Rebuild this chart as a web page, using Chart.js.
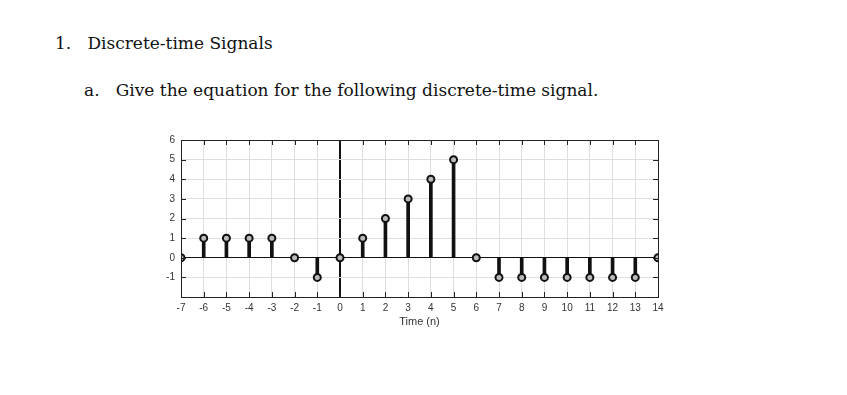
<!DOCTYPE html>
<html>
<head>
<meta charset="utf-8">
<script src="https://cdn.jsdelivr.net/npm/chart.js@4.4.1/dist/chart.umd.min.js"></script>
<style>
  body { margin: 0; background: #fff; width: 847px; height: 395px; position: relative; overflow: hidden; }
  .txt { position: absolute; font-family: "DejaVu Serif", serif; font-size: 17px; color: #111; white-space: nowrap; }
  #c { position: absolute; left: 0; top: 0; }
</style>
</head>
<body>
<div class="txt" style="left:55px; top:33px;">1.&nbsp;&nbsp;&nbsp;Discrete-time Signals</div>
<div class="txt" style="left:84px; top:80px;">a.&nbsp;&nbsp;&nbsp;Give the equation for the following discrete-time signal.</div>
<canvas id="c" width="847" height="395"></canvas>
<script>
// Sample index n and signal value x[n]
const timeN = [-7, -6, -5, -4, -3, -2, -1, 0, 1, 2, 3, 4, 5, 6, 7, 8, 9, 10, 11, 12, 13, 14];
const signalX = [0, 1, 1, 1, 1, 0, -1, 0, 1, 2, 3, 4, 5, 0, -1, -1, -1, -1, -1, -1, -1, 0];
// Axis limits
const xRange = [-7, 14];
const yRange = [-2, 6];

// Stems go from 0 to the value, markers sit on the value
const stemData = timeN.map((n, i) => ({ x: n, y: [0, signalX[i]] }));
const markerData = timeN.map((n, i) => ({ x: n, y: signalX[i] }));

// Draws the MATLAB style box and the small inside tick marks
const boxPlugin = {
    id: 'boxPlugin',
    afterDraw(chart) {
        const ctx = chart.ctx;
        const a = chart.chartArea;
        const xs = chart.scales.x;
        const ys = chart.scales.y;
        ctx.save();
        ctx.strokeStyle = '#222';
        ctx.lineWidth = 1;
        ctx.beginPath();
        xs.ticks.forEach(t => {
            const px = Math.round(xs.getPixelForValue(t.value)) + 0.5;
            ctx.moveTo(px, a.top); ctx.lineTo(px, a.top + 5);
            ctx.moveTo(px, a.bottom); ctx.lineTo(px, a.bottom - 5);
        });
        ys.ticks.forEach(t => {
            const py = Math.round(ys.getPixelForValue(t.value)) + 0.5;
            ctx.moveTo(a.left, py); ctx.lineTo(a.left + 5, py);
            ctx.moveTo(a.right, py); ctx.lineTo(a.right - 5, py);
        });
        ctx.stroke();
        ctx.strokeRect(Math.round(a.left) + 0.5, Math.round(a.top) + 0.5, Math.round(a.right - a.left), Math.round(a.bottom - a.top));
        ctx.restore();
    }
};

new Chart(document.getElementById('c'), {
    type: 'bar',
    data: {
        datasets: [
            {
                type: 'line',
                data: markerData,
                showLine: false,
                pointRadius: 3.5,
                pointBorderWidth: 2,
                pointBorderColor: '#111',
                pointBackgroundColor: '#bbb',
                order: 0
            },
            {
                type: 'bar',
                data: stemData,
                backgroundColor: '#111',
                barThickness: 3,
                order: 1
            }
        ]
    },
    options: {
        responsive: false,
        animation: false,
        plugins: { legend: { display: false }, tooltip: { enabled: false } },
        layout: { padding: { left: 150, top: 140, right: 189, bottom: 62 } },
        scales: {
            x: {
                type: 'linear',
                min: xRange[0],
                max: xRange[1],
                offset: false,
                ticks: { stepSize: 1, color: '#333', font: { family: 'Liberation Sans', size: 10 }, padding: 5, maxRotation: 0, autoSkip: false },
                grid: {
                    offset: false,
                    tickLength: 0,
                    color: ctx => ctx.tick && ctx.tick.value === 0 ? '#111' : '#dedede',
                    lineWidth: ctx => ctx.tick && ctx.tick.value === 0 ? 2 : 1
                },
                border: { color: '#222' },
                title: { display: true, text: 'Time (n)', color: '#333', font: { family: 'Liberation Sans', size: 11 }, padding: { top: 0 } },
                afterFit: s => { s.height = 36; }
            },
            y: {
                min: yRange[0],
                max: yRange[1],
                ticks: {
                    stepSize: 1,
                    color: '#333',
                    font: { family: 'Liberation Sans', size: 10 },
                    padding: 6,
                    callback: v => v === yRange[0] ? '' : v
                },
                grid: {
                    tickLength: 0,
                    color: ctx => ctx.tick && ctx.tick.value === 0 ? '#111' : '#dedede',
                    lineWidth: 1
                },
                border: { color: '#222' },
                afterFit: s => { s.width = 31; }
            }
        }
    },
    plugins: [boxPlugin]
});
</script>
</body>
</html>
